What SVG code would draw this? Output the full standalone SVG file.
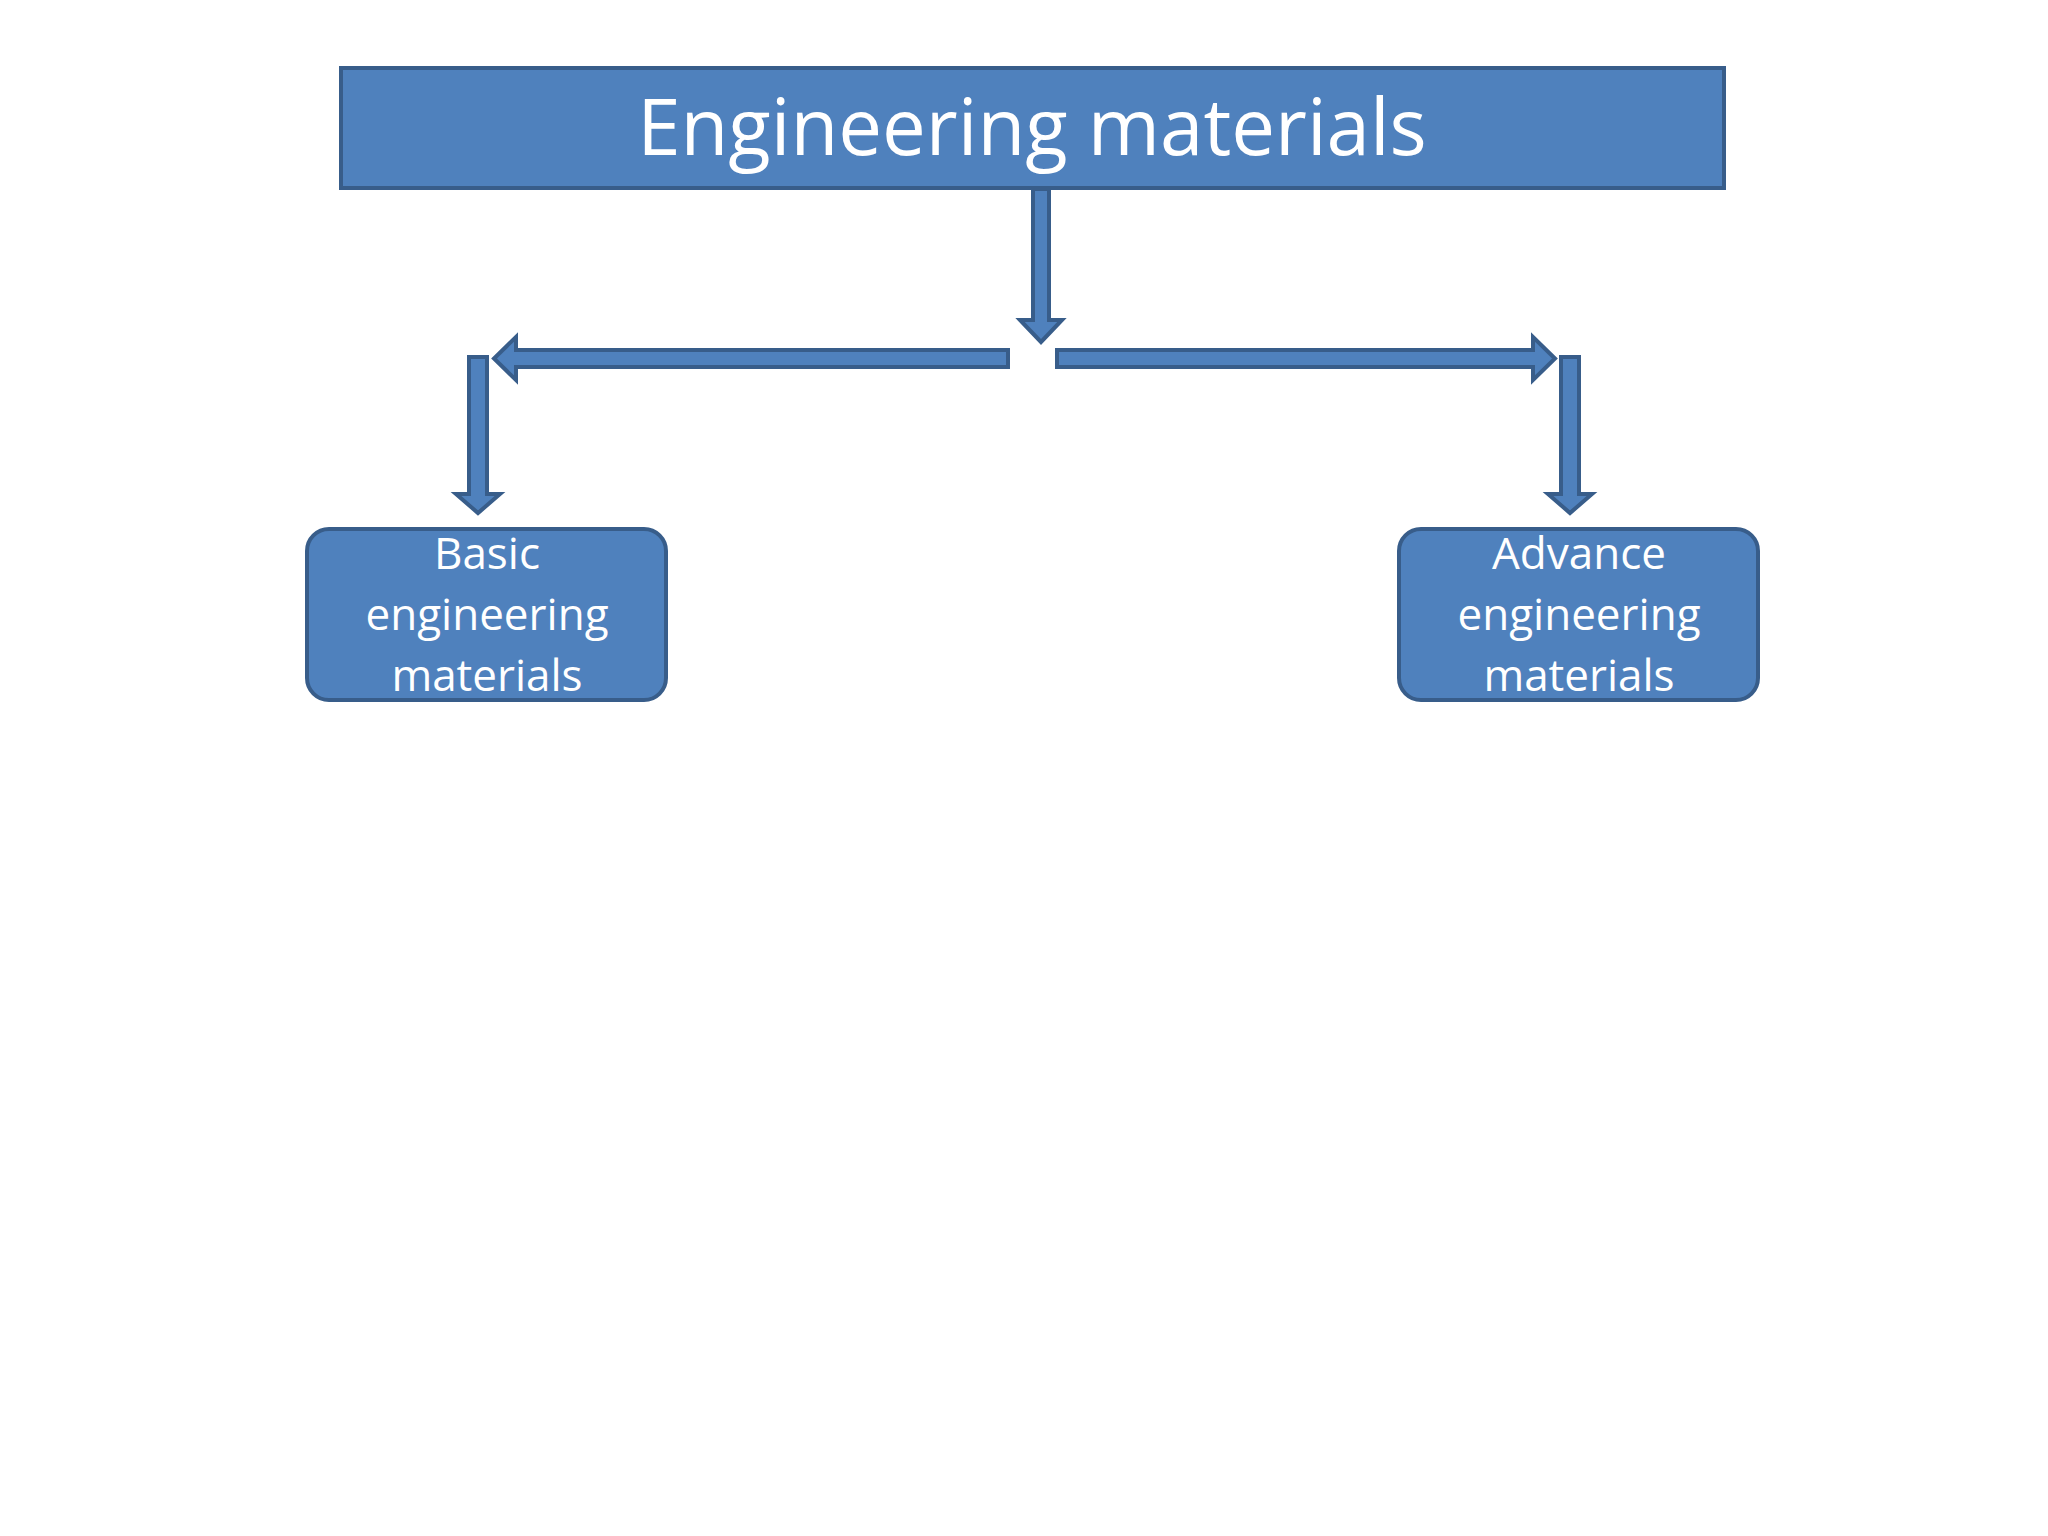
<svg xmlns="http://www.w3.org/2000/svg" width="2048" height="1536" viewBox="0 0 2048 1536">
<style>
.s{fill:#4f81bd;stroke:#385d8a;stroke-width:4;stroke-linejoin:miter}
.t{fill:#fff;font-family:"Open Sans","Noto Sans",sans-serif;text-anchor:middle}
</style>
<rect width="2048" height="1536" fill="#fff"/>
<g id="title"><rect class="s" x="341" y="68" width="1383" height="120"/><text class="t" x="1032" y="155" font-size="78">Engineering materials</text></g>
<g id="basic"><rect class="s" x="307" y="529" width="359" height="171" rx="22"/>
<text class="t" font-size="44"><tspan x="487" y="569">Basic</tspan><tspan x="487" y="630">engineering</tspan><tspan x="487" y="691">materials</tspan></text></g>
<g id="advance"><rect class="s" x="1399" y="529" width="359" height="171" rx="22"/>
<text class="t" font-size="44"><tspan x="1579" y="569">Advance</tspan><tspan x="1579" y="630">engineering</tspan><tspan x="1579" y="691">materials</tspan></text></g>
<g id="connectors">
<path class="s" d="M1033 189 H1049 V320 H1062 L1041 342 L1020 320 H1033 Z"/>
<path class="s" d="M1008 350 V367 H516 V380 L494 358.5 L516 337 V350 Z"/>
<path class="s" d="M1057 350 V367 H1533 V380 L1555 358.5 L1533 337 V350 Z"/>
<path class="s" d="M469 357 H487 V494 H500 L478 513 L456 494 H469 Z"/>
<path class="s" d="M1561 357 H1579 V494 H1592 L1570 513 L1548 494 H1561 Z"/>
</g>
</svg>
